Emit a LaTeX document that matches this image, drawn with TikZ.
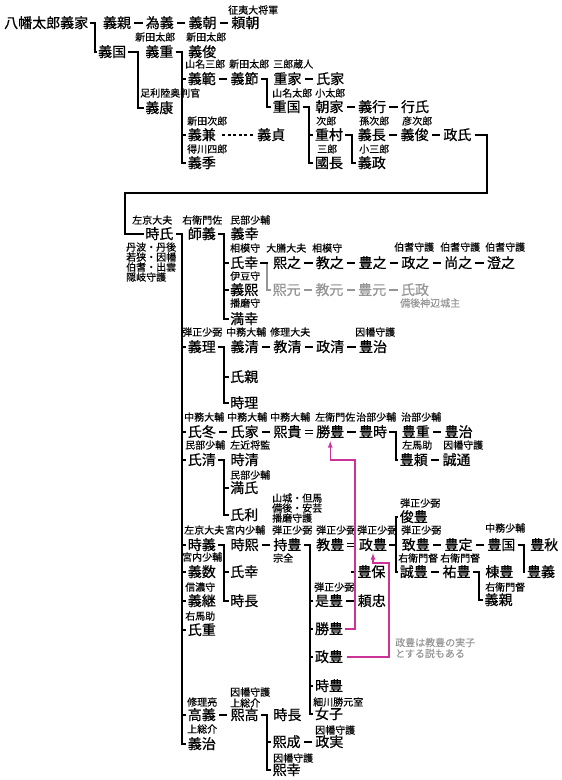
\documentclass[tikz,border=0pt]{standalone}
\usepackage{fontspec}
\setmainfont{Noto Sans CJK JP}
\newfontfamily\namefont{Noto Sans CJK JP}[FakeBold=0.7]
\newfontfamily\labfont{Noto Sans CJK JP}[FakeBold=0.3]
\usetikzlibrary{positioning,calc}
\definecolor{pale}{RGB}{150,150,150}
\definecolor{adoptpink}{RGB}{204,51,153}

\tikzset{
  nm/.style={font=\namefont\fontsize{14}{14}\selectfont, inner sep=0pt, text height=12pt, text depth=2pt, anchor=west},
  lab/.style={font=\labfont\fontsize{10}{10}\selectfont, inner sep=0pt, anchor=west},
  link/.style={line width=1.9pt},
  joinbar/.style={link, shorten <=3pt, shorten >=3pt},
  dbl/.style={double, line width=0.9pt, double distance=1.6pt, shorten <=3pt, shorten >=3pt},
  adopt/.style={->, >=latex, line width=1.2pt, adoptpink}
}

\begin{document}
\begin{tikzpicture}[x=1pt, y=-1pt, node distance=14.4pt]
\useasboundingbox (0,0) rectangle (562,780);

\node[nm] (ie) at (4,23) {八幡太郎義家};
\node[nm, right=of ie] (yoshichika) {義親};
\node[nm, right=of yoshichika] (tameyoshi) {為義};
\node[nm, right=of tameyoshi] (yoshitomo) {義朝};
\node[nm, right=of yoshitomo] (yoritomo) {頼朝};
\node[nm] (yoshikuni) at (98,52) {義国};
\node[nm] (yoshishige) at (145.2,52) {義重};
\node[nm, right=of yoshishige] (yoshitoshi) {義俊};
\node[nm] (yoshiyasu) at (145.2,108) {義康};
\node[nm] (yoshinori) at (187.6,79) {義範};
\node[nm, right=of yoshinori] (yoshitoki) {義節};
\node[nm, right=of yoshitoki] (shigeie) {重家};
\node[nm, right=of shigeie] (ujiie) {氏家};
\node[nm] (shigekuni) at (272.4,107) {重国};
\node[nm, right=of shigekuni] (tomoie) {朝家};
\node[nm, right=of tomoie] (yoshiyuki) {義行};
\node[nm, right=of yoshiyuki] (yukiuji) {行氏};
\node[nm] (yoshikane) at (187.6,135) {義兼};
\node[nm] (yoshisada) at (257,135) {義貞};
\node[nm] (shigemura) at (314.8,135) {重村};
\node[nm, right=of shigemura] (yoshinaga) {義長};
\node[nm, right=of yoshinaga] (yoshitoshi2) {義俊};
\node[nm, right=of yoshitoshi2] (masauji) {政氏};
\node[nm] (yoshisue) at (187.6,163) {義季};
\node[nm] (kuninaga) at (314.8,163) {國長};
\node[nm, right=of kuninaga] (yoshimasa) {義政};

\node[lab] (t-yoritomo) at (228,10) {征夷大将軍};
\node[lab] (t-yoshishige) at (135,37) {新田太郎};
\node[lab] (t-yoshitoshi) at (186,37) {新田太郎};
\node[lab] (t-yoshinori) at (185,64) {山名三郎};
\node[lab] (t-yoshitoki) at (229,64) {新田太郎};
\node[lab] (t-shigeie) at (273,64) {三郎蔵人};
\node[lab] (t-yoshiyasu) at (140,93) {足利陸奥判官};
\node[lab] (t-shigekuni) at (272,93) {山名太郎};
\node[lab] (t-tomoie) at (315,93) {小太郎};
\node[lab] (t-yoshikane) at (187,121) {新田次郎};
\node[lab] (t-shigemura) at (316,121) {次郎};
\node[lab] (t-yoshinaga) at (359,121) {孫次郎};
\node[lab] (t-yoshitoshi2) at (402,121) {彦次郎};
\node[lab] (t-yoshisue) at (187,149) {得川四郎};
\node[lab] (t-kuninaga) at (317,149) {三郎};
\node[lab] (t-yoshimasa) at (359,149) {小三郎};

\coordinate (v-ie) at ($(yoshichika.west)+(-8,0)$);
\draw[link] ([xshift=2pt]ie.east) -| (v-ie |- yoshikuni.west) -- ([xshift=-1pt]yoshikuni.west);
\draw[joinbar] (yoshichika) -- (tameyoshi);
\draw[joinbar] (tameyoshi) -- (yoshitomo);
\draw[joinbar] (yoshitomo) -- (yoritomo);

\coordinate (v-yoshikuni) at ($(yoshishige.west)+(-7,0)$);
\draw[link] ([xshift=2pt]yoshikuni.east) -| (v-yoshikuni |- yoshiyasu.west) -- ([xshift=-1.5pt]yoshiyasu.west);

\coordinate (v-yoshishige) at ($(yoshitoshi.west)+(-6,0)$);
\draw[link] ([xshift=2pt]yoshishige.east) -| (v-yoshishige |- yoshisue.west) -- ([xshift=-1.5pt]yoshisue.west);
\foreach \kid in {yoshinori,yoshikane}
  \draw[link] (v-yoshishige |- \kid.west) -- ([xshift=-1.5pt]\kid.west);

\draw[joinbar] (yoshinori) -- (yoshitoki);
\coordinate (v-yoshitoki) at ($(shigeie.west)+(-6,0)$);
\draw[link] ([xshift=2pt]yoshitoki.east) -| (v-yoshitoki |- shigekuni.west) -- ([xshift=-1.5pt]shigekuni.west);
\draw[joinbar] (shigeie) -- (ujiie);

\coordinate (v-shigekuni) at ($(tomoie.west)+(-6,0)$);
\draw[link] ([xshift=2pt]shigekuni.east) -| (v-shigekuni |- kuninaga.west) -- ([xshift=-1.5pt]kuninaga.west);
\draw[link] (v-shigekuni |- shigemura.west) -- ([xshift=-1.5pt]shigemura.west);
\draw[joinbar] (tomoie) -- (yoshiyuki);
\draw[joinbar] (yoshiyuki) -- (yukiuji);

\coordinate (v-shigemura) at ($(yoshinaga.west)+(-6,0)$);
\draw[link] ([xshift=2pt]shigemura.east) -| (v-shigemura |- yoshimasa.west) -- ([xshift=-1.5pt]yoshimasa.west);
\draw[joinbar] (yoshinaga) -- (yoshitoshi2);
\draw[joinbar] (yoshitoshi2) -- (masauji);

\draw[link, dash pattern=on 3pt off 2.6pt, shorten <=6pt, shorten >=1.5pt] (yoshikane) -- (yoshisada);

\node[nm] (tokiuji) at (145.2,234) {時氏};
\node[lab] (t-tokiuji) at (132,220) {左京大夫};
\node[lab, align=left] (k-tokiuji) at (126,262) {丹波・丹後\\若狭・因幡\\伯耆・出雲\\隠岐守護};

\coordinate (c-turn1) at (487,193);
\coordinate (c-turn2) at (125,193);
\draw[link] ([xshift=3pt]masauji.east) -| (c-turn1) -- (c-turn2) |- ([xshift=-1.5pt]tokiuji.west);

\node[nm] (moroyoshi) at (187.6,234) {師義};
\node[nm, right=of moroyoshi] (yoshiyuki2) {義幸};
\node[nm] (ujiyuki) at (230,263) {氏幸};
\node[nm, right=of ujiyuki] (hiroyuki) {熙之};
\node[nm, right=of hiroyuki] (noriyuki) {教之};
\node[nm, right=of noriyuki] (toyoyuki) {豊之};
\node[nm, right=of toyoyuki] (masayuki) {政之};
\node[nm, right=of masayuki] (hisayuki) {尚之};
\node[nm, right=of hisayuki] (sumiyuki) {澄之};
\node[nm] (yoshihiro) at (230,290) {義熙};
\node[nm, pale] (hiromoto) at (272.4,290) {熙元};
\node[nm, pale, right=of hiromoto] (norimoto) {教元};
\node[nm, pale, right=of norimoto] (toyomoto) {豊元};
\node[nm, pale, right=of toyomoto] (ujimasa) {氏政};
\node[nm] (mitsuyuki) at (230,319) {満幸};

\node[lab] (t-moroyoshi) at (182,220) {右衛門佐};
\node[lab] (t-yoshiyuki2) at (230,220) {民部少輔};
\node[lab] (t-ujiyuki) at (230,248) {相模守};
\node[lab] (t-hiroyuki) at (266,248) {大膳大夫};
\node[lab] (t-noriyuki) at (312,248) {相模守};
\node[lab] (t-masayuki) at (394,247) {伯耆守護};
\node[lab] (t-hisayuki) at (440,247) {伯耆守護};
\node[lab] (t-sumiyuki) at (485,247) {伯耆守護};
\node[lab] (t-yoshihiro) at (230,276) {伊豆守};
\node[lab, pale] (k-ujimasa) at (400,303) {備後神辺城主};
\node[lab] (t-mitsuyuki) at (230,303) {播磨守};

\node[nm] (yoshitada) at (187.6,347) {義理};
\node[nm, right=of yoshitada] (yoshikiyo) {義清};
\node[nm, right=of yoshikiyo] (norikiyo) {教清};
\node[nm, right=of norikiyo] (masakiyo) {政清};
\node[nm, right=of masakiyo] (toyoharu) {豊治};
\node[nm] (ujichika) at (230,377) {氏親};
\node[nm] (tokitada) at (230,403) {時理};
\node[lab] (t-yoshitada) at (182,332) {弾正少弼};
\node[lab] (t-yoshikiyo) at (226,332) {中務大輔};
\node[lab] (t-norikiyo) at (270,332) {修理大夫};
\node[lab] (t-toyoharu) at (355,332) {因幡守護};

\node[nm] (ujifuyu) at (187.6,432) {氏冬};
\node[nm, right=of ujifuyu] (ujiie2) {氏家};
\node[nm, right=of ujiie2] (hirotaka) {熙貴};
\node[nm, right=of hirotaka] (katsutoyo) {勝豊};
\node[nm, right=of katsutoyo] (toyotoki) {豊時};
\node[nm, right=of toyotoki] (toyoshige) {豊重};
\node[nm, right=of toyoshige] (toyoharu2) {豊治};
\node[nm] (toyoyori) at (399.6,460) {豊頼};
\node[nm, right=of toyoyori] (nobumichi) {誠通};
\node[lab] (t-ujifuyu) at (184,417) {中務大輔};
\node[lab] (t-ujiie2) at (227,417) {中務大輔};
\node[lab] (t-hirotaka) at (270,417) {中務大輔};
\node[lab] (t-katsutoyo) at (315,417) {左衛門佐};
\node[lab] (t-toyotoki) at (356,417) {治部少輔};
\node[lab] (t-toyoshige) at (401,417) {治部少輔};
\node[lab] (t-toyoyori) at (402,445) {左馬助};
\node[lab] (t-nobumichi) at (443,445) {因幡守護};

\node[nm] (ujikiyo) at (187.6,460) {氏清};
\node[nm, right=of ujikiyo] (tokikiyo) {時清};
\node[nm] (mitsuuji) at (230,488) {満氏};
\node[nm] (ujitoshi) at (230,515) {氏利};
\node[lab] (t-ujikiyo) at (185,445) {民部少輔};
\node[lab] (t-tokikiyo) at (230,445) {左近将監};
\node[lab] (t-mitsuuji) at (230,475) {民部少輔};
\node[lab, align=left] (k-mochitoyo) at (272,508) {山城・但馬\\備後・安芸\\播磨守護};

\node[nm] (toshitoyo) at (399.6,517) {俊豊};
\node[lab] (t-toshitoyo) at (400,503) {弾正少弼};

\node[nm] (tokiyoshi) at (187.6,545) {時義};
\node[nm, right=of tokiyoshi] (tokihiro) {時熙};
\node[nm, right=of tokihiro] (mochitoyo) {持豊};
\node[nm, right=of mochitoyo] (noritoyo) {教豊};
\node[nm, right=of noritoyo] (masatoyo) {政豊};
\node[nm, right=of masatoyo] (munetoyo) {致豊};
\node[nm, right=of munetoyo] (toyosada) {豊定};
\node[nm, right=of toyosada] (toyokuni) {豊国};
\node[nm, right=of toyokuni] (toyoaki) {豊秋};
\node[lab] (t-tokiyoshi) at (184,530) {左京大夫};
\node[lab] (t-tokihiro) at (225,530) {宮内少輔};
\node[lab] (t-mochitoyo) at (272,530) {弾正少弼};
\node[lab] (t-noritoyo) at (316,530) {弾正少弼};
\node[lab] (t-masatoyo) at (357,530) {弾正少弼};
\node[lab] (t-munetoyo) at (401,530) {弾正少弼};
\node[lab] (t-toyokuni) at (485,528) {中務少輔};
\node[lab] (k-sozen) at (273,558) {宗全};

\node[nm] (yoshikazu) at (187.6,572) {義数};
\node[nm] (ujiyuki2) at (230,572) {氏幸};
\node[nm] (toyoyasu) at (357.2,572) {豊保};
\node[nm] (nobutoyo) at (399.6,572) {誠豊};
\node[nm, right=of nobutoyo] (suketoyo) {祐豊};
\node[nm, right=of suketoyo] (munetoyo2) {棟豊};
\node[nm] (toyoyoshi) at (526.8,572) {豊義};
\node[lab] (t-yoshikazu) at (182,557) {宮内少輔};
\node[lab] (t-nobutoyo) at (398,558) {右衛門督};
\node[lab] (t-suketoyo) at (440,558) {右衛門督};

\node[nm] (yoshitsugu) at (187.6,601) {義継};
\node[nm] (tokinaga) at (230,601) {時長};
\node[nm] (koretoyo) at (314.8,601) {是豊};
\node[nm, right=of koretoyo] (yoritada) {頼忠};
\node[nm] (yoshichika2) at (484.4,600) {義親};
\node[lab] (t-yoshitsugu) at (185,587) {信濃守};
\node[lab] (t-koretoyo) at (314,587) {弾正少弼};
\node[lab] (t-yoshichika2) at (485,587) {右衛門督};

\node[nm] (ujishige) at (187.6,630) {氏重};
\node[lab] (t-ujishige) at (185,616) {右馬助};
\node[nm] (katsutoyo2) at (314.8,629) {勝豊};
\node[nm] (masatoyo2) at (314.8,657) {政豊};
\node[nm] (tokitoyo) at (314.8,686) {時豊};
\node[lab, pale, align=left, font=\labfont\fontsize{10}{11}\selectfont] (k-note) at (395,648) {政豊は教豊の実子\\とする説もある};

\node[nm] (takayoshi) at (187.6,715) {高義};
\node[nm, right=of takayoshi] (hirotaka2) {熙高};
\node[nm, right=of hirotaka2] (tokinaga2) {時長};
\node[nm] (nyoshi) at (314.8,714) {女子};
\node[nm] (hironari) at (272.4,742) {熙成};
\node[nm, right=of hironari] (masazane) {政実};
\node[nm] (yoshiharu) at (187.6,744) {義治};
\node[nm] (hiroyuki2) at (272.4,770) {熙幸};
\node[lab] (t-takayoshi) at (187,702) {修理亮};
\node[lab, align=left, font=\labfont\fontsize{10}{11}\selectfont] (t-hirotaka2) at (230,697.5) {因幡守護\\上総介};
\node[lab] (t-nyoshi) at (313,702) {細川勝元室};
\node[lab] (t-yoshiharu) at (187,729) {上総介};
\node[lab] (t-masazane) at (315,730) {因幡守護};
\node[lab] (t-hiroyuki2) at (273,758) {因幡守護};

\coordinate (v-tokiuji) at ($(moroyoshi.west)+(-6,0)$);
\draw[link] ([xshift=2pt]tokiuji.east) -| (v-tokiuji |- yoshiharu.west) -- ([xshift=-1.5pt]yoshiharu.west);
\foreach \kid in {yoshitada,ujifuyu,ujikiyo,tokiyoshi,yoshikazu,yoshitsugu,ujishige,takayoshi}
  \draw[link] (v-tokiuji |- \kid.west) -- ([xshift=-1.5pt]\kid.west);

\coordinate (v-moroyoshi) at ($(yoshiyuki2.west)+(-6,0)$);
\draw[link] ([xshift=2pt]moroyoshi.east) -| (v-moroyoshi |- mitsuyuki.west) -- ([xshift=-1.5pt]mitsuyuki.west);
\foreach \kid in {ujiyuki,yoshihiro}
  \draw[link] (v-moroyoshi |- \kid.west) -- ([xshift=-1.5pt]\kid.west);

\coordinate (v-ujiyuki) at ($(hiroyuki.west)+(-6,0)$);
\draw[link, pale] (v-ujiyuki) |- ([xshift=-1.5pt]hiromoto.west);
\draw[link] ([xshift=2pt]ujiyuki.east) -- ([xshift=0.9pt]v-ujiyuki);
\draw[joinbar] (hiroyuki) -- (noriyuki);
\draw[joinbar] (noriyuki) -- (toyoyuki);
\draw[joinbar] (toyoyuki) -- (masayuki);
\draw[joinbar] (masayuki) -- (hisayuki);
\draw[joinbar] (hisayuki) -- (sumiyuki);
\draw[joinbar, pale] (hiromoto) -- (norimoto);
\draw[joinbar, pale] (norimoto) -- (toyomoto);
\draw[joinbar, pale] (toyomoto) -- (ujimasa);

\coordinate (v-yoshitada) at ($(yoshikiyo.west)+(-6,0)$);
\draw[link] ([xshift=2pt]yoshitada.east) -| (v-yoshitada |- tokitada.west) -- ([xshift=-1.5pt]tokitada.west);
\draw[link] (v-yoshitada |- ujichika.west) -- ([xshift=-1.5pt]ujichika.west);
\draw[joinbar] (yoshikiyo) -- (norikiyo);
\draw[joinbar] (norikiyo) -- (masakiyo);
\draw[joinbar] (masakiyo) -- (toyoharu);

\draw[joinbar] (ujifuyu) -- (ujiie2);
\draw[joinbar] (ujiie2) -- (hirotaka);
\draw[dbl] (hirotaka) -- (katsutoyo);
\draw[joinbar] (katsutoyo) -- (toyotoki);
\coordinate (v-toyotoki) at ($(toyoshige.west)+(-6,0)$);
\draw[link] ([xshift=2pt]toyotoki.east) -| (v-toyotoki |- toyoyori.west) -- ([xshift=-1.5pt]toyoyori.west);
\draw[joinbar] (toyoshige) -- (toyoharu2);
\draw[joinbar] (toyoyori) -- (nobumichi);

\coordinate (v-ujikiyo) at ($(tokikiyo.west)+(-6,0)$);
\draw[link] ([xshift=2pt]ujikiyo.east) -| (v-ujikiyo |- ujitoshi.west) -- ([xshift=-1.5pt]ujitoshi.west);
\draw[link] (v-ujikiyo |- mitsuuji.west) -- ([xshift=-1.5pt]mitsuuji.west);

\coordinate (v-tokiyoshi) at ($(tokihiro.west)+(-6,0)$);
\draw[link] ([xshift=2pt]tokiyoshi.east) -| (v-tokiyoshi |- tokinaga.west) -- ([xshift=-1.5pt]tokinaga.west);
\draw[link] (v-tokiyoshi |- ujiyuki2.west) -- ([xshift=-1.5pt]ujiyuki2.west);
\draw[joinbar] (tokihiro) -- (mochitoyo);

\coordinate (v-mochitoyo) at ($(noritoyo.west)+(-6,0)$);
\draw[link] ([xshift=2pt]mochitoyo.east) -| (v-mochitoyo |- nyoshi.west) -- ([xshift=-1.5pt]nyoshi.west);
\foreach \kid in {koretoyo,katsutoyo2,masatoyo2,tokitoyo}
  \draw[link] (v-mochitoyo |- \kid.west) -- ([xshift=-1.5pt]\kid.west);
\draw[joinbar] (koretoyo) -- (yoritada);

\coordinate (v-noritoyo) at ($(toyoyasu.west)+(-6,0)$);
\draw[link] (v-noritoyo) |- ([xshift=-1.5pt]toyoyasu.west);
\draw[dbl] (noritoyo) -- (masatoyo);

\coordinate (v-masatoyo) at ($(munetoyo.west)+(-6,0)$);
\draw[link] ([xshift=2pt]masatoyo.east) -- ([xshift=0.9pt]v-masatoyo);
\draw[link] ([xshift=-1.5pt]toshitoyo.west) -| (v-masatoyo) |- ([xshift=-1.5pt]nobutoyo.west);
\draw[joinbar] (munetoyo) -- (toyosada);
\draw[joinbar] (toyosada) -- (toyokuni);
\coordinate (v-toyokuni) at ($(toyoaki.west)+(-6,0)$);
\draw[link] ([xshift=2pt]toyokuni.east) -| (v-toyokuni |- toyoyoshi.west) -- ([xshift=-1.5pt]toyoyoshi.west);
\draw[joinbar] (nobutoyo) -- (suketoyo);
\coordinate (v-suketoyo) at ($(munetoyo2.west)+(-6,0)$);
\draw[link] ([xshift=2pt]suketoyo.east) -| (v-suketoyo |- yoshichika2.west) -- ([xshift=-1.5pt]yoshichika2.west);

\draw[joinbar] (takayoshi) -- (hirotaka2);
\coordinate (v-hirotaka2) at ($(tokinaga2.west)+(-6,0)$);
\draw[link] ([xshift=2pt]hirotaka2.east) -| (v-hirotaka2 |- hiroyuki2.west) -- ([xshift=-1.5pt]hiroyuki2.west);
\draw[link] (v-hirotaka2 |- hironari.west) -- ([xshift=-1.5pt]hironari.west);
\draw[joinbar] (hironari) -- (masazane);

\coordinate (pk1) at (355,460);
\coordinate (pk2) at (389,563);
\draw[adopt] ([xshift=2pt]katsutoyo2.east) -| (pk1) -| ([yshift=-2pt]katsutoyo.south);
\draw[adopt] ([xshift=4pt]masatoyo2.east) -| (pk2) -| ([yshift=-1pt]masatoyo.south);
\end{tikzpicture}
\end{document}
